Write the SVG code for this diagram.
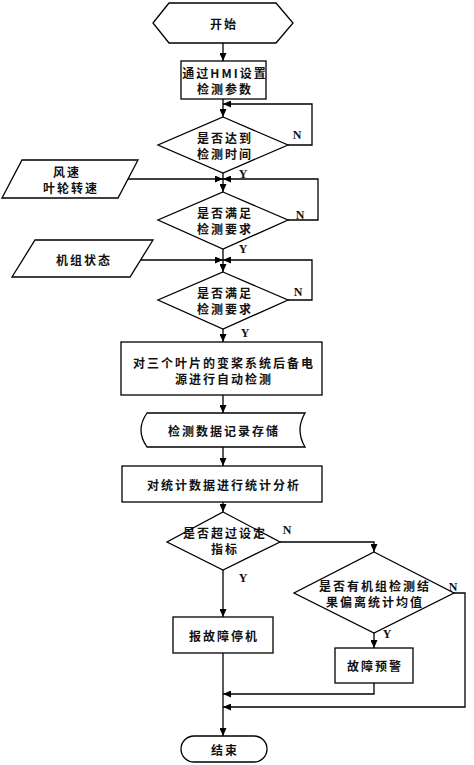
<svg xmlns="http://www.w3.org/2000/svg" width="474" height="765" viewBox="0 0 474 765">
<defs>
<marker id="ah" markerWidth="8" markerHeight="7" refX="8" refY="3.5" orient="auto" markerUnits="userSpaceOnUse">
<path d="M0,0 L8,3.5 L0,7 Z" fill="#000"/>
</marker>
<style>
.s{fill:#fff;stroke:#000;stroke-width:1.3}
.c{fill:none;stroke:#000;stroke-width:1.3;marker-end:url(#ah)}
.t{font-family:"Noto Sans CJK SC","Noto Sans",sans-serif;font-size:12px;font-weight:bold;fill:#111;text-anchor:middle;dominant-baseline:central;letter-spacing:2px}
.l{font-family:"Liberation Serif",serif;font-size:12px;font-weight:bold;fill:#111;text-anchor:middle;dominant-baseline:central}
</style>
</defs>
<rect width="474" height="765" fill="#fff"/>
<g id="connectors">
<path class="c" d="M223,43 V61"/>
<path class="c" d="M223,99 V117"/>
<path class="c" d="M288,145 H312 V104 H223"/>
<path class="c" d="M223,173 V192"/>
<path class="c" d="M128,179 H223"/>
<path class="c" d="M288,220 H318 V179 H223"/>
<path class="c" d="M223,249 V272"/>
<path class="c" d="M141,260 H223"/>
<path class="c" d="M288,300 H312 V260 H223"/>
<path class="c" d="M223,329 V342"/>
<path class="c" d="M223,395 V413"/>
<path class="c" d="M223,447 V466"/>
<path class="c" d="M223,502 V512"/>
<path class="c" d="M223,570 V617"/>
<path class="c" d="M280,542 H374 V552"/>
<path class="c" d="M374,633 V648"/>
<path class="c" d="M374,683 V694 H223"/>
<path class="c" d="M454,593 H465 V707 H223"/>
<path class="c" d="M223,653 V736"/>
<text class="l" x="243" y="174">Y</text>
<text class="l" x="297" y="135">N</text>
<text class="l" x="243" y="249">Y</text>
<text class="l" x="300" y="215">N</text>
<text class="l" x="245" y="333">Y</text>
<text class="l" x="298" y="292">N</text>
<text class="l" x="287" y="530">N</text>
<text class="l" x="243" y="578">Y</text>
<text class="l" x="453" y="587">N</text>
<text class="l" x="387" y="634">Y</text>
</g>
<g id="start">
<polygon class="s" points="153,23 169,3 276,3 293,23 276,43 169,43"/>
<text class="t" x="224" y="23">开始</text>
</g>
<g id="setParams">
<rect class="s" x="181" y="61" width="85" height="38"/>
<text class="t" x="225" y="72">通过HMI设置</text>
<text class="t" x="225" y="88">检测参数</text>
</g>
<g id="decTime">
<polygon class="s" points="223,117 288,145 223,173 158,145"/>
<text class="t" x="225" y="137">是否达到</text>
<text class="t" x="225" y="153">检测时间</text>
</g>
<g id="inputWind">
<polygon class="s" points="22,160 138,160 118,198 2,198"/>
<text class="t" x="67" y="171">风速</text>
<text class="t" x="71" y="187">叶轮转速</text>
</g>
<g id="decReq1">
<polygon class="s" points="223,192 288,220 223,249 158,220"/>
<text class="t" x="225" y="212">是否满足</text>
<text class="t" x="225" y="228">检测要求</text>
</g>
<g id="inputState">
<polygon class="s" points="35,240 153,240 130,277 12,277"/>
<text class="t" x="84" y="259">机组状态</text>
</g>
<g id="decReq2">
<polygon class="s" points="223,272 288,300 223,329 158,300"/>
<text class="t" x="225" y="292">是否满足</text>
<text class="t" x="225" y="308">检测要求</text>
</g>
<g id="autoTest">
<rect class="s" x="121" y="342" width="201" height="53"/>
<text class="t" x="224" y="362">对三个叶片的变桨系统后备电</text>
<text class="t" x="224" y="378">源进行自动检测</text>
</g>
<g id="storeData">
<path class="s" d="M147,413 H305 Q295,430 305,447 H147 Q135,430 147,413 Z"/>
<text class="t" x="224" y="430">检测数据记录存储</text>
</g>
<g id="analyze">
<rect class="s" x="122" y="466" width="200" height="36"/>
<text class="t" x="224" y="484">对统计数据进行统计分析</text>
</g>
<g id="decExceed">
<polygon class="s" points="223,512 280,542 223,570 167,542"/>
<text class="t" x="225" y="532">是否超过设定</text>
<text class="t" x="225" y="548">指标</text>
</g>
<g id="shutdown">
<rect class="s" x="173" y="617" width="100" height="36"/>
<text class="t" x="224" y="635">报故障停机</text>
</g>
<g id="decDeviate">
<polygon class="s" points="374,552 454,593 374,633 294,593"/>
<text class="t" x="375" y="585">是否有机组检测结</text>
<text class="t" x="375" y="601">果偏离统计均值</text>
</g>
<g id="warning">
<rect class="s" x="335" y="648" width="78" height="35"/>
<text class="t" x="375" y="665">故障预警</text>
</g>
<g id="end">
<rect class="s" x="181" y="736" width="86" height="26" rx="13" ry="13"/>
<text class="t" x="225" y="749">结束</text>
</g>
</svg>
